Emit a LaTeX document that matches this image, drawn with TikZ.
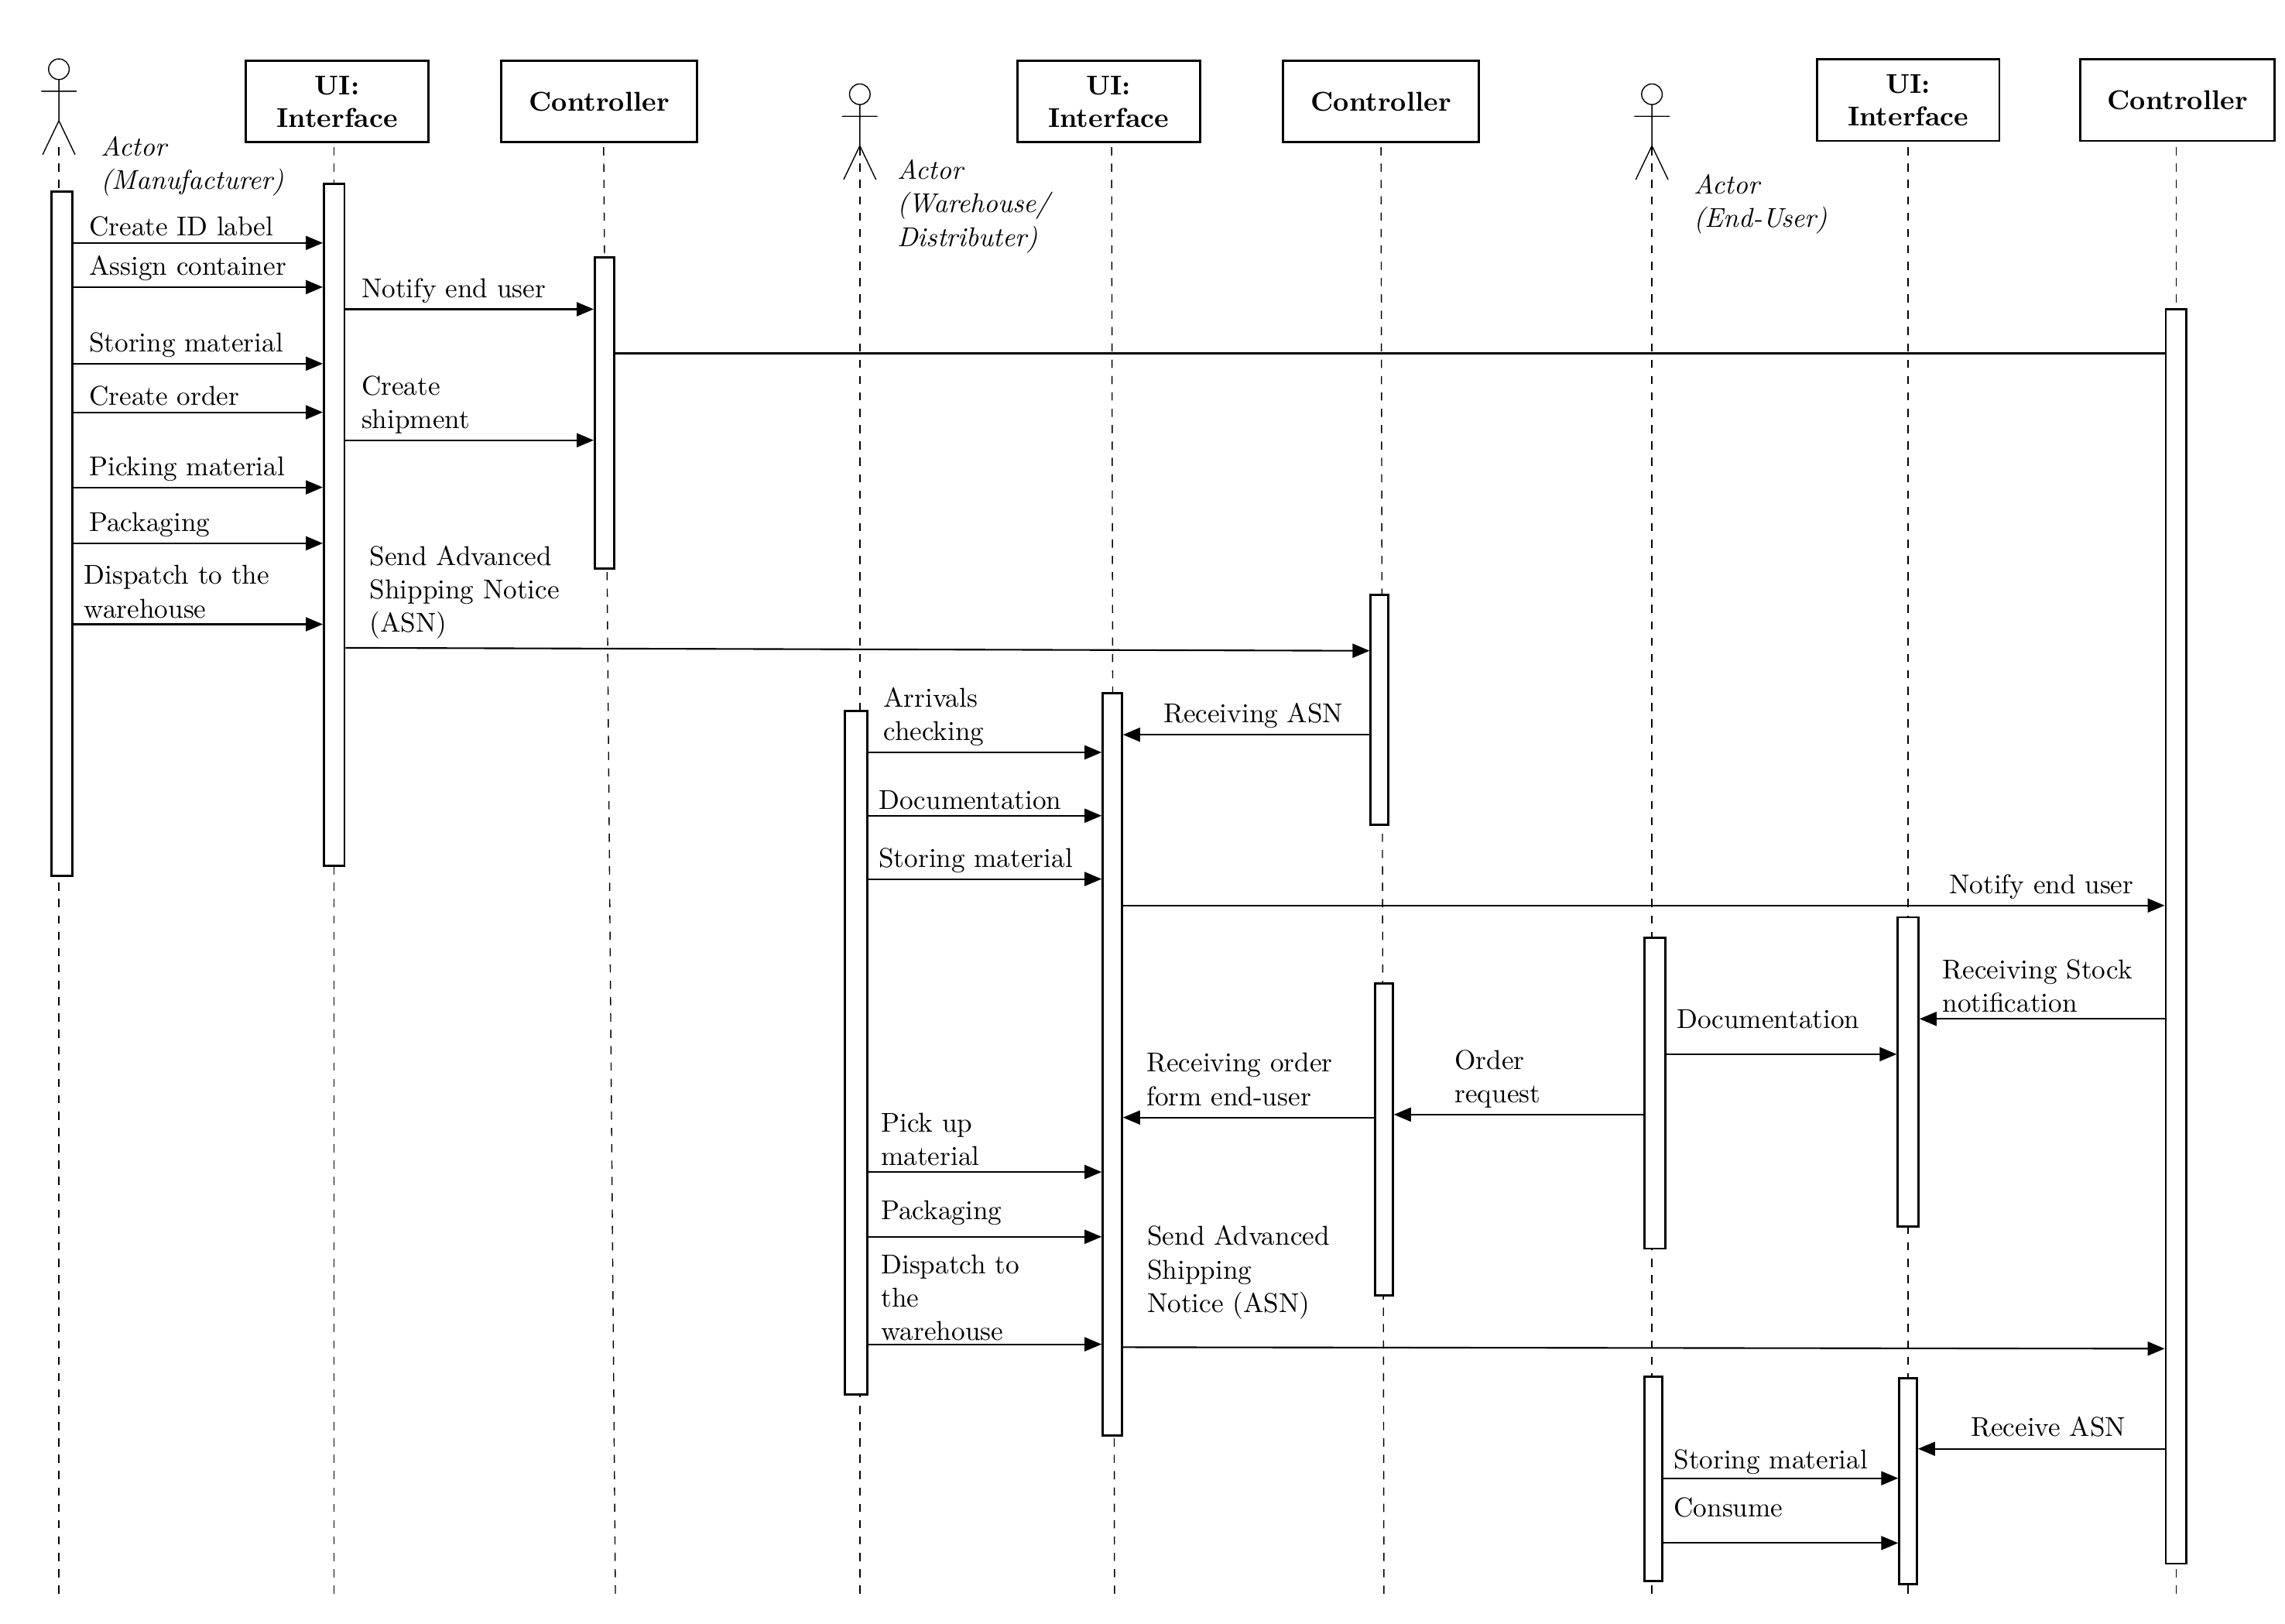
\documentclass[tikz,border=0pt]{standalone}
\usetikzlibrary{arrows.meta,fit}
\begin{document}
\begin{tikzpicture}[x=0.019cm,y=-0.019cm,
  font=\fontsize{10}{12.3}\selectfont,
  box/.style={draw,thick,fill=white,minimum width=2.3cm,minimum height=1.05cm,align=center,font=\fontsize{10}{12}\selectfont\bfseries},
  act/.style={draw,thick,fill=white,inner sep=0pt},
  life/.style={dashed,thin},
  msg/.style={-{Triangle[length=2.2mm,width=1.8mm]},semithick},
  lbl/.style={anchor=south west,align=left,inner sep=1pt},
  who/.style={anchor=north west,align=left,font=\fontsize{10}{12.3}\selectfont\itshape}]
\useasboundingbox (0,0) rectangle (1552,1103);
% lifelines
\foreach \x/\t in {40/40,227/227,410/418,584/584,755/757,938/940,1122/1122,1296/1296,1478/1478}
  \draw[life] (\x,100) -- (\t,1085);
% headers
\node[box,minimum width=124*0.019cm] (u1) at (229,69) {UI:\\Interface};
\node[box,minimum width=133*0.019cm] (c1) at (407,69) {Controller};
\node[box,minimum width=124*0.019cm] (u2) at (753,69) {UI:\\Interface};
\node[box,minimum width=133*0.019cm] (c2) at (938,69) {Controller};
\node[box,minimum width=124*0.019cm] (u3) at (1296,68) {UI:\\Interface};
\node[box,minimum width=132*0.019cm] (c3) at (1479,68) {Controller};
% actors
\foreach \x/\y in {40/40,584/57,1122/57}{
  \draw[fill=white] (\x,\y+7) circle (7);
  \draw (\x,\y+14) -- (\x,\y+42) (\x-12,\y+22) -- (\x+12,\y+22)
        (\x-11,\y+65) -- (\x,\y+42) -- (\x+11,\y+65);
}
\node[who] (n1) at (62,86) {Actor\\(Manufacturer)};
\node[who] (n2) at (603,102) {Actor\\(Warehouse/\\Distributer)};
\node[who] (n3) at (1144,112) {Actor\\(End-User)};
% activations
\node[act,fit={(35,130)(49,595)}] (a1) {};
\node[act,fit={(220,125)(234,588)}] (k1) {};
\node[act,fit={(404,175)(417,386)}] (t1) {};
\node[act,fit={(1471,210)(1485,1062)}] (t3) {};
\node[act,fit={(931,404)(943,560)}] (t2) {};
\node[act,fit={(574,483)(589,947)}] (a2) {};
\node[act,fit={(749,471)(762,975)}] (k2) {};
\node[act,fit={(1289,623)(1303,833)}] (k3) {};
\node[act,fit={(1117,637)(1131,848)}] (a3) {};
\node[act,fit={(934,668)(946,880)}] (t2b) {};
\node[act,fit={(1117,935)(1129,1074)}] (a3b) {};
\node[act,fit={(1290,936)(1302,1076)}] (k3b) {};
% manufacturer messages
\foreach \y/\t in {165/Create ID label,195/Assign container,247/Storing material,280/Create order,331/Picking material,369/Packaging}
  \draw[msg] (a1.east |- 0,\y) -- (k1.west |- 0,\y) node[lbl,pos=0.05,yshift=1pt] {\t};
\draw[msg] (a1.east |- 0,424) -- (k1.west |- 0,424) node[lbl,pos=0.03,yshift=1pt] {Dispatch to the\\warehouse};
\draw[msg] (k1.east |- 0,210) -- (t1.west |- 0,210) node[lbl,pos=0.05,yshift=1pt] {Notify end user};
\draw[msg] (k1.east |- 0,299) -- (t1.west |- 0,299) node[lbl,pos=0.05,yshift=1pt] {Create\\shipment};
\draw[semithick] (t1.east |- 0,240) -- (t3.west |- 0,240);
\draw[msg] (k1.east |- 0,440) -- (t2.west |- 0,442) node[lbl,pos=0.02,yshift=2pt] {Send Advanced\\Shipping Notice\\(ASN)};
% warehouse messages
\draw[msg] (t2.west |- 0,499) -- (k2.east |- 0,499) node[lbl,pos=0.85,yshift=1pt] {Receiving ASN};
\draw[msg] (a2.east |- 0,511) -- (k2.west |- 0,511) node[lbl,pos=0.05,yshift=1pt] {Arrivals\\checking};
\draw[msg] (a2.east |- 0,554) -- (k2.west |- 0,554) node[lbl,pos=0.03,yshift=1pt] {Documentation};
\draw[msg] (a2.east |- 0,597) -- (k2.west |- 0,597) node[lbl,pos=0.03,yshift=1pt] {Storing material};
\draw[msg] (k2.east |- 0,615) -- (t3.west |- 0,615) node[lbl,pos=0.79,yshift=1pt] {Notify end user};
\draw[msg] (t3.west |- 0,692) -- (k3.east |- 0,692) node[lbl,pos=0.92,yshift=1pt] {Receiving Stock\\notification};
\draw[msg] (a3.east |- 0,716) -- (k3.west |- 0,716) node[lbl,pos=0.03,yshift=8pt] {Documentation};
\draw[msg] (a3.west |- 0,757) -- (t2b.east |- 0,757) node[lbl,pos=0.77,yshift=1pt] {Order\\request};
\draw[msg] (t2b.west |- 0,759) -- (k2.east |- 0,759) node[lbl,pos=0.92,yshift=3pt] {Receiving order\\form end-user};
\draw[msg] (a2.east |- 0,796) -- (k2.west |- 0,796) node[lbl,pos=0.04,yshift=1pt] {Pick up\\material};
\draw[msg] (a2.east |- 0,840) -- (k2.west |- 0,840) node[lbl,pos=0.04,yshift=3pt] {Packaging};
\draw[msg] (a2.east |- 0,913) -- (k2.west |- 0,913) node[lbl,pos=0.04,yshift=0pt] {Dispatch to\\the\\warehouse};
\draw[msg] (k2.east |- 0,915) -- (t3.west |- 0,916) node[lbl,pos=0.02,yshift=9pt] {Send Advanced\\Shipping\\Notice (ASN)};
% end-user messages
\draw[msg] (t3.west |- 0,984) -- (k3b.east |- 0,984) node[lbl,pos=0.8,yshift=3pt] {Receive ASN};
\draw[msg] (a3b.east |- 0,1004) -- (k3b.west |- 0,1004) node[lbl,pos=0.03,yshift=0pt] {Storing material};
\draw[msg] (a3b.east |- 0,1048) -- (k3b.west |- 0,1048) node[lbl,pos=0.03,yshift=8pt] {Consume};
\end{tikzpicture}
\end{document}
